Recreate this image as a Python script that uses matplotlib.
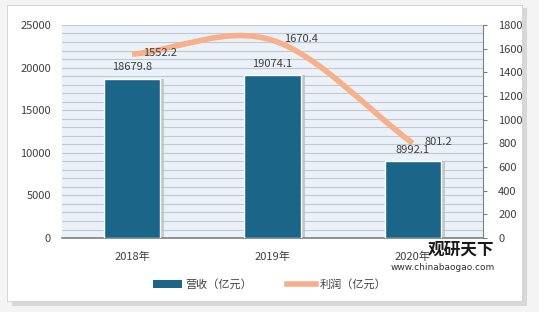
import matplotlib.pyplot as plt
import numpy as np
from matplotlib.patches import Rectangle, PathPatch, Patch
from matplotlib.path import Path
from matplotlib.lines import Line2D

plt.rcParams['font.family'] = ['Noto Sans CJK SC', 'DejaVu Sans']

years = ['2018年', '2019年', '2020年']
revenue = [18679.8, 19074.1, 8992.1]
profit = [1552.2, 1670.4, 801.2]

bar_color = '#1b6589'
line_color = '#f7b08a'
text_color = '#404040'

fig = plt.figure(figsize=(5.39, 3.12), dpi=100)
fig.patch.set_facecolor('#f4f4f4')

# card with shadow
shadow = Rectangle((0.022, 0.02), 0.955, 0.955, transform=fig.transFigure,
                   facecolor='#d8d8d8', edgecolor='none', zorder=-2)
card = Rectangle((0.013, 0.035), 0.955, 0.95, transform=fig.transFigure,
                 facecolor='white', edgecolor='#d0d0d0', linewidth=0.6,
                 zorder=-1)
fig.add_artist(shadow)
fig.add_artist(card)

ax = fig.add_axes([0.115, 0.237, 0.781, 0.683])
ax.set_facecolor('#eaf1f8')
x = np.arange(len(years))
# shadow of bars
ax.bar(x + 0.03, revenue, width=0.4, color='#b8c0c8', zorder=2, alpha=0.8)
ax.bar(x, revenue, width=0.4, color=bar_color, edgecolor='white',
       linewidth=1.0, zorder=3)
ax.set_ylim(0, 25000)
ax.set_xlim(-0.5, 2.5)
ax.set_yticks(range(0, 25001, 5000))
ax.set_yticks(range(0, 25001, 1000), minor=True)
ax.grid(axis='y', which='both', color='#c4c8cc', linewidth=0.8, zorder=1)
ax.set_axisbelow(True)
ax.set_xticks(x)
ax.set_xticklabels(years)
ax.tick_params(axis='both', which='both', length=0, colors=text_color,
               labelsize=8)
ax.tick_params(axis='x', pad=10)
ax.tick_params(axis='y', pad=8)
for s in ['top', 'left', 'right']:
    ax.spines[s].set_visible(False)
ax.spines['bottom'].set_color('#7f7f7f')
ax.spines['bottom'].set_linewidth(1.2)
for xi, v in zip(x, revenue):
    ax.text(xi, v + 800, f'{v}', ha='center', va='bottom', fontsize=8,
            color=text_color, zorder=5)

ax2 = ax.twinx()
ax2.set_ylim(0, 1800)
ax2.set_yticks(range(0, 1801, 200))
ax2.tick_params(axis='y', length=3, colors=text_color, labelsize=8, pad=8)
ax2.tick_params(axis='y', color='#7f7f7f')
for s in ['top', 'left', 'bottom']:
    ax2.spines[s].set_visible(False)
ax2.spines['right'].set_color('#7f7f7f')

# smooth curve through the points (Catmull-Rom as cubic Bezier)
pts = np.column_stack([x, profit]).astype(float)
ext = np.vstack([pts[0] - (pts[1] - pts[0]), pts, pts[-1] + (pts[-1] - pts[-2])])
verts = [tuple(pts[0])]
codes = [Path.MOVETO]
for i in range(1, len(ext) - 2):
    p0, p1, p2, p3 = ext[i - 1], ext[i], ext[i + 1], ext[i + 2]
    c1 = p1 + (p2 - p0) / 6
    c2 = p2 - (p3 - p1) / 6
    verts += [tuple(c1), tuple(c2), tuple(p2)]
    codes += [Path.CURVE4] * 3
ax2.add_patch(PathPatch(Path(verts, codes), facecolor='none',
                        edgecolor=line_color, linewidth=4, capstyle='butt',
                        zorder=4))
for xi, v in zip(x, profit):
    ax2.text(xi + 0.08, v + 10, f'{v}', ha='left', va='center', fontsize=8,
             color=text_color, zorder=5)

handles = [Patch(facecolor=bar_color, edgecolor='none'),
           Line2D([], [], color=line_color, linewidth=4)]
leg = fig.legend(handles, ['营收（亿元）', '利润（亿元）'], loc='center',
                 bbox_to_anchor=(0.5, 0.087), ncol=2, frameon=True,
                 fontsize=8, handlelength=2.6, handletextpad=0.3,
                 columnspacing=3.2, fancybox=False, edgecolor='none',
                 labelcolor=text_color, borderpad=0.8)
leg.get_frame().set_facecolor('white')

# watermark
fig.text(0.855, 0.199, '观研天下', fontsize=12, fontweight='bold',
         color='#1a1a1a', ha='center', va='center')
fig.text(0.822, 0.144, 'www.chinabaogao.com', fontsize=6.5,
         color='#333333', ha='center', va='center', family='DejaVu Sans')

fig.savefig('out.png', dpi=100)
